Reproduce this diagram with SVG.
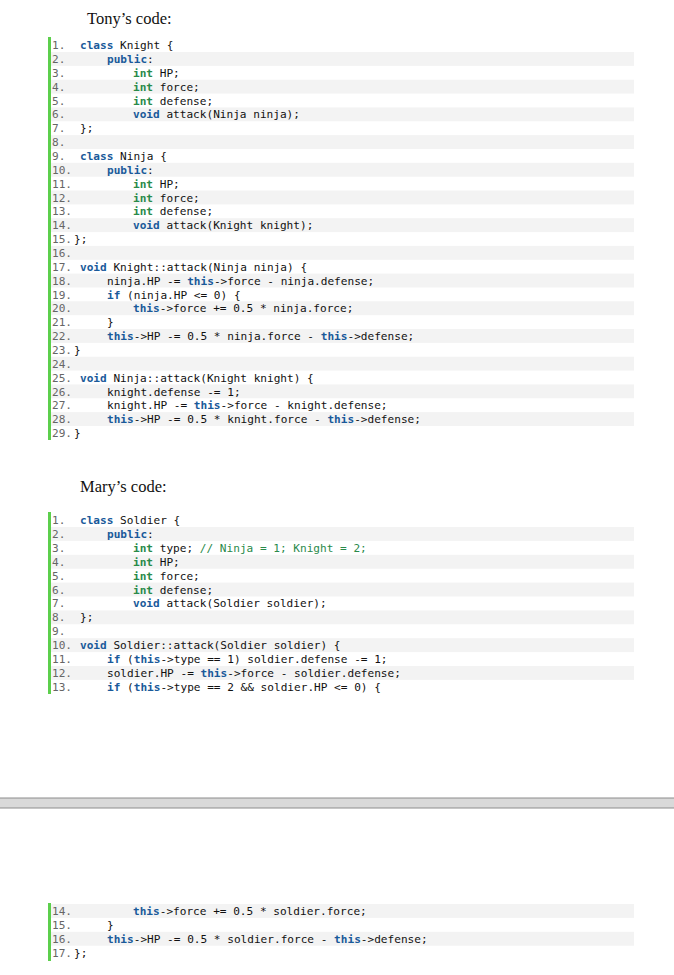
<svg xmlns="http://www.w3.org/2000/svg" width="674" height="975" viewBox="0 0 674 975">
<style>
.t{font-family:"Liberation Serif",serif;font-size:16.5px;fill:#111}
.c{font-family:"DejaVu Sans Mono","Liberation Mono",monospace;font-size:11.1px;fill:#111;white-space:pre}
.n{fill:#666}
.k{fill:#1a5a9a;font-weight:bold}
.i{fill:#2a8a4a;font-weight:bold}
.cm{fill:#2a8a4a}
.s{fill:#f3f3f3}
.g{fill:#5ccf4c}
</style>
<rect width="674" height="975" fill="#fff"/>
<text class="t" x="87" y="24">Tony’s code:</text>
<text class="t" x="80" y="492">Mary’s code:</text>
<rect class="g" x="48" y="37" width="3" height="403"/>
<g id="tony-shade">
<rect class="s" x="51" y="52" width="583" height="13.9"/>
<rect class="s" x="51" y="79.7" width="583" height="13.9"/>
<rect class="s" x="51" y="107.4" width="583" height="13.9"/>
<rect class="s" x="51" y="135.1" width="583" height="13.9"/>
<rect class="s" x="51" y="162.8" width="583" height="13.9"/>
<rect class="s" x="51" y="190.5" width="583" height="13.9"/>
<rect class="s" x="51" y="218.2" width="583" height="13.9"/>
<rect class="s" x="51" y="245.9" width="583" height="13.9"/>
<rect class="s" x="51" y="273.6" width="583" height="13.9"/>
<rect class="s" x="51" y="301.3" width="583" height="13.9"/>
<rect class="s" x="51" y="329" width="583" height="13.9"/>
<rect class="s" x="51" y="356.7" width="583" height="13.9"/>
<rect class="s" x="51" y="384.4" width="583" height="13.9"/>
<rect class="s" x="51" y="412.1" width="583" height="13.9"/>
</g>
<g id="tony-code" class="c">
<text x="52" y="49"><tspan class="n">1.</tspan><tspan x="80" class="k">class</tspan> Knight {</text>
<text x="52" y="62.9"><tspan class="n">2.</tspan><tspan x="107" class="k">public</tspan>:</text>
<text x="52" y="76.8"><tspan class="n">3.</tspan><tspan x="133" class="i">int</tspan> HP;</text>
<text x="52" y="90.6"><tspan class="n">4.</tspan><tspan x="133" class="i">int</tspan> force;</text>
<text x="52" y="104.5"><tspan class="n">5.</tspan><tspan x="133" class="i">int</tspan> defense;</text>
<text x="52" y="118.3"><tspan class="n">6.</tspan><tspan x="133" class="k">void</tspan> attack(Ninja ninja);</text>
<text x="52" y="132.2"><tspan class="n">7.</tspan><tspan x="80">};</tspan></text>
<text x="52" y="146"><tspan class="n">8.</tspan></text>
<text x="52" y="159.9"><tspan class="n">9.</tspan><tspan x="80" class="k">class</tspan> Ninja {</text>
<text x="52" y="173.8"><tspan class="n">10.</tspan><tspan x="107" class="k">public</tspan>:</text>
<text x="52" y="187.6"><tspan class="n">11.</tspan><tspan x="133" class="i">int</tspan> HP;</text>
<text x="52" y="201.5"><tspan class="n">12.</tspan><tspan x="133" class="i">int</tspan> force;</text>
<text x="52" y="215.3"><tspan class="n">13.</tspan><tspan x="133" class="i">int</tspan> defense;</text>
<text x="52" y="229.2"><tspan class="n">14.</tspan><tspan x="133" class="k">void</tspan> attack(Knight knight);</text>
<text x="52" y="243"><tspan class="n">15.</tspan><tspan x="74">};</tspan></text>
<text x="52" y="256.9"><tspan class="n">16.</tspan></text>
<text x="52" y="270.8"><tspan class="n">17.</tspan><tspan x="80" class="k">void</tspan> Knight::attack(Ninja ninja) {</text>
<text x="52" y="284.6"><tspan class="n">18.</tspan><tspan x="107">ninja.HP -= </tspan><tspan class="k">this</tspan>-&gt;force - ninja.defense;</text>
<text x="52" y="298.5"><tspan class="n">19.</tspan><tspan x="107" class="k">if</tspan> (ninja.HP &lt;= 0) {</text>
<text x="52" y="312.3"><tspan class="n">20.</tspan><tspan x="133" class="k">this</tspan>-&gt;force += 0.5 * ninja.force;</text>
<text x="52" y="326.2"><tspan class="n">21.</tspan><tspan x="107">}</tspan></text>
<text x="52" y="340"><tspan class="n">22.</tspan><tspan x="107" class="k">this</tspan>-&gt;HP -= 0.5 * ninja.force - <tspan class="k">this</tspan>-&gt;defense;</text>
<text x="52" y="353.9"><tspan class="n">23.</tspan><tspan x="74">}</tspan></text>
<text x="52" y="367.8"><tspan class="n">24.</tspan></text>
<text x="52" y="381.6"><tspan class="n">25.</tspan><tspan x="80" class="k">void</tspan> Ninja::attack(Knight knight) {</text>
<text x="52" y="395.5"><tspan class="n">26.</tspan><tspan x="107">knight.defense -= 1;</tspan></text>
<text x="52" y="409.3"><tspan class="n">27.</tspan><tspan x="107">knight.HP -= </tspan><tspan class="k">this</tspan>-&gt;force - knight.defense;</text>
<text x="52" y="423.2"><tspan class="n">28.</tspan><tspan x="107" class="k">this</tspan>-&gt;HP -= 0.5 * knight.force - <tspan class="k">this</tspan>-&gt;defense;</text>
<text x="52" y="437"><tspan class="n">29.</tspan><tspan x="74">}</tspan></text>
</g>
<rect class="g" x="48" y="512" width="3" height="182"/>
<g id="mary-shade">
<rect class="s" x="51" y="527" width="583" height="13.9"/>
<rect class="s" x="51" y="554.8" width="583" height="13.9"/>
<rect class="s" x="51" y="582.6" width="583" height="13.9"/>
<rect class="s" x="51" y="610.4" width="583" height="13.9"/>
<rect class="s" x="51" y="638.2" width="583" height="13.9"/>
<rect class="s" x="51" y="666" width="583" height="13.9"/>
</g>
<g id="mary-code" class="c">
<text x="52" y="524"><tspan class="n">1.</tspan><tspan x="80" class="k">class</tspan> Soldier {</text>
<text x="52" y="537.9"><tspan class="n">2.</tspan><tspan x="107" class="k">public</tspan>:</text>
<text x="52" y="551.8"><tspan class="n">3.</tspan><tspan x="133" class="i">int</tspan> type; <tspan class="cm">// Ninja = 1; Knight = 2;</tspan></text>
<text x="52" y="565.7"><tspan class="n">4.</tspan><tspan x="133" class="i">int</tspan> HP;</text>
<text x="52" y="579.6"><tspan class="n">5.</tspan><tspan x="133" class="i">int</tspan> force;</text>
<text x="52" y="593.5"><tspan class="n">6.</tspan><tspan x="133" class="i">int</tspan> defense;</text>
<text x="52" y="607.4"><tspan class="n">7.</tspan><tspan x="133" class="k">void</tspan> attack(Soldier soldier);</text>
<text x="52" y="621.3"><tspan class="n">8.</tspan><tspan x="80">};</tspan></text>
<text x="52" y="635.2"><tspan class="n">9.</tspan></text>
<text x="52" y="649.1"><tspan class="n">10.</tspan><tspan x="80" class="k">void</tspan> Soldier::attack(Soldier soldier) {</text>
<text x="52" y="663"><tspan class="n">11.</tspan><tspan x="107" class="k">if</tspan> (<tspan class="k">this</tspan>-&gt;type == 1) soldier.defense -= 1;</text>
<text x="52" y="676.9"><tspan class="n">12.</tspan><tspan x="107">soldier.HP -= </tspan><tspan class="k">this</tspan>-&gt;force - soldier.defense;</text>
<text x="52" y="690.8"><tspan class="n">13.</tspan><tspan x="107" class="k">if</tspan> (<tspan class="k">this</tspan>-&gt;type == 2 &amp;&amp; soldier.HP &lt;= 0) {</text>
</g>
<g id="page-break">
<rect x="0" y="798" width="674" height="10" fill="#d9d9d9"/>
<line x1="0" y1="798" x2="674" y2="798" stroke="#8c8c8c"/>
<line x1="0" y1="808" x2="674" y2="808" stroke="#8c8c8c"/>
</g>
<rect class="g" x="48" y="903" width="3" height="58"/>
<g id="mary-shade2">
<rect class="s" x="51" y="904" width="583" height="13.9"/>
<rect class="s" x="51" y="931.8" width="583" height="13.9"/>
</g>
<g id="mary-code2" class="c">
<text x="52" y="915"><tspan class="n">14.</tspan><tspan x="133" class="k">this</tspan>-&gt;force += 0.5 * soldier.force;</text>
<text x="52" y="928.9"><tspan class="n">15.</tspan><tspan x="107">}</tspan></text>
<text x="52" y="942.8"><tspan class="n">16.</tspan><tspan x="107" class="k">this</tspan>-&gt;HP -= 0.5 * soldier.force - <tspan class="k">this</tspan>-&gt;defense;</text>
<text x="52" y="956.7"><tspan class="n">17.</tspan><tspan x="74">};</tspan></text>
</g>
</svg>
